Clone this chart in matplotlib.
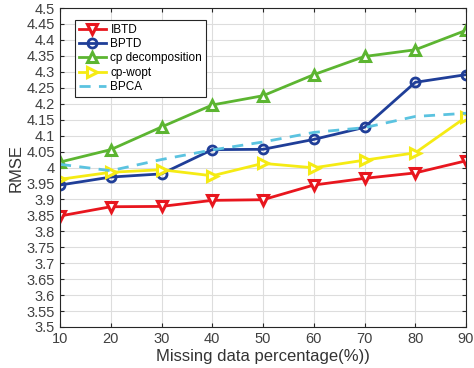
import matplotlib
matplotlib.use("Agg")
import matplotlib.pyplot as plt

plt.rcParams['font.family'] = ['Liberation Sans', 'DejaVu Sans']

# === Data ===
missing = [10, 20, 30, 40, 50, 60, 70, 80, 90]
ibtd = [3.848, 3.877, 3.878, 3.897, 3.899, 3.945, 3.966, 3.983, 4.021]
bptd = [3.945, 3.970, 3.980, 4.056, 4.057, 4.088, 4.126, 4.267, 4.291]
cp_decomp = [4.017, 4.056, 4.127, 4.196, 4.225, 4.291, 4.348, 4.369, 4.430]
cp_wopt = [3.963, 3.985, 3.993, 3.974, 4.013, 3.999, 4.023, 4.046, 4.158]
bpca = [4.010, 3.990, 4.025, 4.055, 4.080, 4.110, 4.125, 4.160, 4.170]

yticks = [3.5 + 0.05 * i for i in range(21)]
ytick_labels = ['%g' % round(t, 2) for t in yticks]

# === Plot ===
fig = plt.figure(figsize=(4.74, 3.68), dpi=100)
ax = fig.add_axes([60 / 474, 1 - 327 / 368, 406 / 474, 319 / 368])

ax.plot(missing, ibtd, '-v', color='#E8161E', lw=2, ms=7, mfc='white', mew=2.2, label='IBTD')
ax.plot(missing, bptd, '-o', color='#1F3E98', lw=2, ms=6.5, mfc='none', mew=2, label='BPTD')
ax.plot(missing, cp_decomp, '-^', color='#5CB531', lw=2, ms=7, mfc='white', mew=2.2, label='cp decomposition')
ax.plot(missing, cp_wopt, '->', color='#F5EB14', lw=2, ms=7, mfc='white', mew=2.2, label='cp-wopt')
ax.plot(missing, bpca, '--', color='#5BC3E0', lw=2, dashes=(4, 3), label='BPCA')

ax.set_xlim(10, 90)
ax.set_ylim(3.5, 4.5)
ax.set_xticks(missing)
ax.set_yticks(yticks)
ax.set_yticklabels(ytick_labels)
ax.tick_params(direction='in', top=True, right=True, labelsize=10.5, labelcolor='#404040',
               color='#262626', length=3)
for s in ax.spines.values():
    s.set_color('#262626')
    s.set_linewidth(0.8)
ax.grid(True, color='#DDDDDD', lw=0.8)

ax.set_xlabel("Missing data percentage(%))", fontsize=12, color='#333333', labelpad=2)
ax.set_ylabel("RMSE", fontsize=12, color='#333333', labelpad=2)

leg = ax.legend(loc='upper left', bbox_to_anchor=(0.037, 0.962), borderaxespad=0, fontsize=8.5,
                fancybox=False, framealpha=1, edgecolor='#262626',
                handlelength=2.3, handletextpad=0.4, borderpad=0.3, labelspacing=0.2)
leg.get_frame().set_linewidth(0.8)

fig.savefig("out.png", dpi=100)
